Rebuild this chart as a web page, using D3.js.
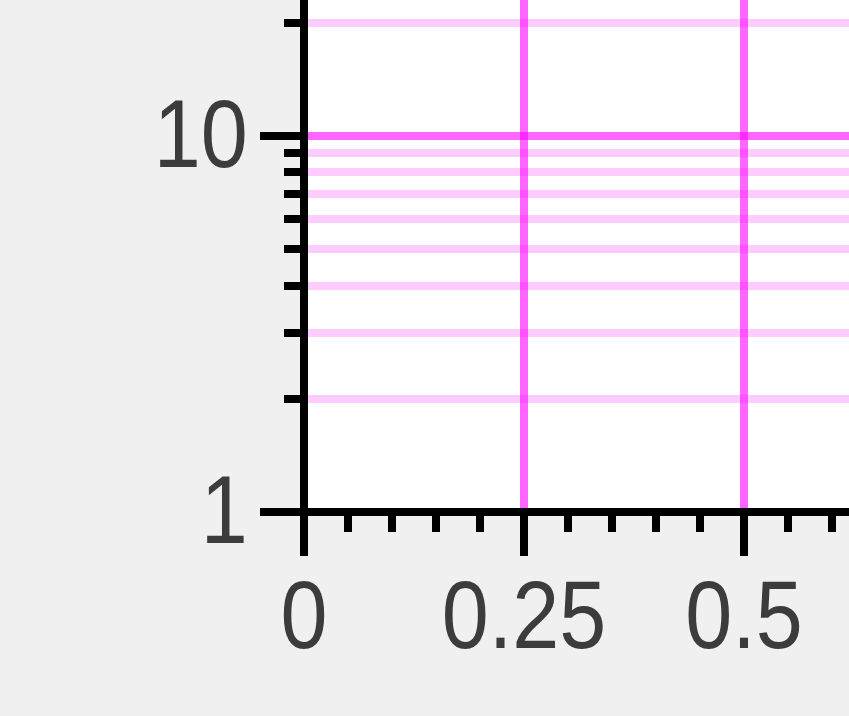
<!DOCTYPE html>
<html lang="en">
<head>
    <meta charset="UTF-8">
    <title>Log grid</title>
    <script type="text/javascript" src="https://cdn.jsdelivr.net/npm/d3@7"></script>
    <style>
    html,body{
        height:100%;
        width:100%;
        margin: 0;
        background: #f0f0f0;
        overflow: hidden;
    }
    svg{
        position: fixed;
        top: 0;
        left: 0;
    }
    .tick text{
        font-family: "Liberation Sans", Arial, sans-serif;
        font-size: 96px;
        fill: #3c3c3c;
    }
    </style>
</head>
<body>
<script>
    // tick values (only the visible part of the chart)
    let xMajor = [0, 0.25, 0.5];
    let xMinor = [0.05, 0.1, 0.15, 0.2, 0.3, 0.35, 0.4, 0.45, 0.55, 0.6, 0.65, 0.7];
    let xLabels = ["0", "0.25", "0.5"];
    let yMajor = [1, 10];
    let yMinor = [2, 3, 4, 5, 6, 7, 8, 9, 20];
    let yLabels = ["1", "10"];

    let width = 849, height = 716;
    let left = 304, bottom = 512;

    let svg = d3.select("body")
                .append("svg")
                .attr("width", width)
                .attr("height", height);

    let xScale = d3.scaleLinear().domain([0, 1]).range([left, left + 880]);
    let yScale = d3.scaleLog().domain([1, 100]).range([bottom, bottom - 752]);

    // plot area
    svg.append('rect')
        .attr('x', left).attr('y', yScale(100))
        .attr('width', xScale(1) - left).attr('height', bottom - yScale(100))
        .attr('fill', '#fff');

    let grid = svg.append('g').attr('shape-rendering', 'crispEdges');

    grid.selectAll('.ymin').data(yMinor).join('line')
        .attr('x1', left + 4).attr('x2', xScale(1))
        .attr('y1', d => yScale(d)).attr('y2', d => yScale(d))
        .attr('stroke', '#ff00ff').attr('stroke-opacity', 0.2).attr('stroke-width', 8);

    grid.selectAll('.ymaj').data(yMajor.slice(1)).join('line')
        .attr('x1', left + 4).attr('x2', xScale(1))
        .attr('y1', d => yScale(d)).attr('y2', d => yScale(d))
        .attr('stroke', '#ff00ff').attr('stroke-opacity', 0.6).attr('stroke-width', 8);

    grid.selectAll('.xmaj').data(xMajor.slice(1)).join('line')
        .attr('x1', d => xScale(d)).attr('x2', d => xScale(d))
        .attr('y1', yScale(100)).attr('y2', bottom - 4)
        .attr('stroke', '#ff00ff').attr('stroke-opacity', 0.6).attr('stroke-width', 8);

    function styleAxis(g){
        g.selectAll('path.domain').attr('stroke', '#000').attr('stroke-width', 8);
        g.selectAll('.tick line').attr('stroke', '#000').attr('stroke-width', 8);
        g.selectAll('.tick text').attr('fill', '#3c3c3c').attr('transform', 'scale(0.88,1)');
        g.attr('shape-rendering', 'crispEdges');
    }

    // y axis
    svg.append('g')
        .attr('transform', `translate(${left},0)`)
        .call(d3.axisLeft(yScale).tickValues(yMinor).tickSize(20).tickSizeOuter(0).tickFormat('').offset(0))
        .call(styleAxis);
    svg.append('g')
        .attr('transform', `translate(${left},0)`)
        .call(d3.axisLeft(yScale).tickValues(yMajor).tickSize(44).tickSizeOuter(0).tickPadding(20).offset(0)
              .tickFormat((d,i) => yLabels[i]))
        .call(styleAxis)
        .call(g => g.select('.domain').remove());

    // x axis
    svg.append('g')
        .attr('transform', `translate(0,${bottom})`)
        .call(d3.axisBottom(xScale).tickValues(xMinor).tickSize(20).tickSizeOuter(0).tickFormat('').offset(0))
        .call(styleAxis);
    svg.append('g')
        .attr('transform', `translate(0,${bottom})`)
        .call(d3.axisBottom(xScale).tickValues(xMajor).tickSize(44).tickSizeOuter(0).tickPadding(24).offset(0)
              .tickFormat((d,i) => xLabels[i]))
        .call(styleAxis)
        .call(g => g.select('.domain').remove());
</script>
</body>
</html>
